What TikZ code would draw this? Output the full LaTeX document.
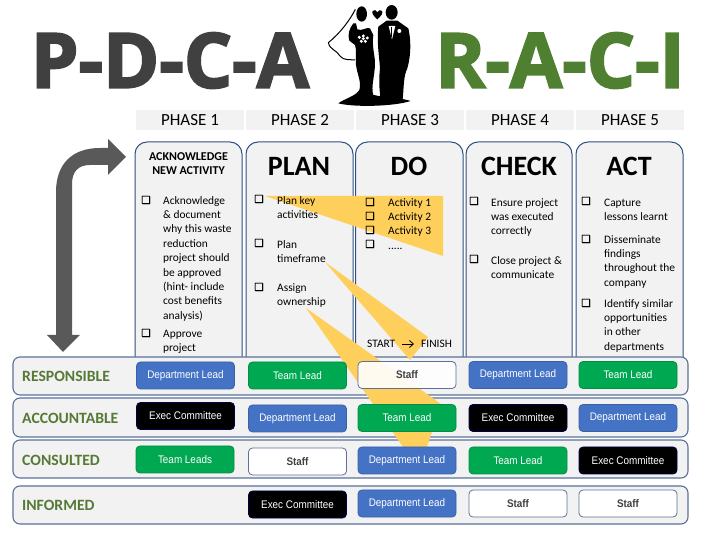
\documentclass[tikz,border=0pt]{standalone}
\usepackage{fontspec}
\usetikzlibrary{arrows.meta}
\setmainfont{Carlito}
\newfontfamily\btnfont[FakeStretch=.9]{Liberation Sans}
\newfontfamily\titlefont[BoldFeatures={FakeBold=2.6}]{Open Sans}
\newfontfamily\boxfont[FakeBold=1.6]{DejaVu Sans}
\definecolor{panelgray}{HTML}{F2F2F2}
\definecolor{panelline}{HTML}{2F5082}
\definecolor{rowline}{HTML}{5B7199}
\definecolor{darktitle}{HTML}{404040}
\definecolor{greentitle}{HTML}{4F7F30}
\definecolor{rowgreen}{HTML}{567A36}
\definecolor{arrowgray}{HTML}{595959}
\definecolor{wedge}{HTML}{FFCF5C}
\definecolor{btnblue}{HTML}{4472C4}
\definecolor{btngreen}{HTML}{00A851}
\tikzset{
  column/.style={draw=panelline,fill=panelgray,line width=1pt,rounded corners=12pt},
  rowband/.style={draw=rowline,fill=panelgray,line width=1.1pt,rounded corners=7pt},
  phasehead/.style={fill=panelgray,minimum width=108pt,minimum height=20pt,inner sep=0pt,font=\fontsize{17}{18}\selectfont},
  coltitle/.style={font=\bfseries\fontsize{28}{30}\selectfont,inner sep=0pt},
  bodytext/.style={anchor=west,align=left,inner sep=0pt,font=\fontsize{11.4}{14.4}\selectfont},
  tick/.style={inner sep=0pt,font=\boxfont\fontsize{10.5}{10.5}\selectfont},
  rowlabel/.style={anchor=west,inner sep=0pt,text=rowgreen,font=\bfseries\fontsize{15.7}{16}\selectfont},
  btn/.style={rounded corners=4pt,line width=.8pt,minimum width=98pt,minimum height=27pt,inner sep=0pt,font=\btnfont\fontsize{11}{12}\selectfont},
  bluebtn/.style={btn,fill=btnblue,draw=btnblue!85!black,text=white},
  greenbtn/.style={btn,fill=btngreen,draw=btngreen!85!black,text=white},
  blackbtn/.style={btn,fill=black,draw=black!70!blue,text=white},
  whitebtn/.style={btn,fill=white,draw=rowline,text=black!75,font=\btnfont\bfseries\fontsize{11}{12}\selectfont},
}
\begin{document}
\begin{tikzpicture}[x=1pt,y=-1pt]
\useasboundingbox (0,0) rectangle (716,540);
% title
\node[inner sep=0pt,text=darktitle,font=\titlefont\bfseries\fontsize{76}{80}\selectfont] (pdca) at (170,60.5) {P-D-C-A};
\node[inner sep=0pt,text=greentitle,font=\titlefont\bfseries\fontsize{76}{80}\selectfont] (raci) at (560,60.5) {R-A-C-I};
% couple
\begin{scope}[shift={(320,0)},x=.3333pt,y=-.3333pt]
\fill (125,42) ellipse (16 and 23);
\fill (215,37) ellipse (18 and 22);
\fill (172,58) .. controls (160,48) and (154,38) .. (158,33) .. controls (162,28) and (170,30) .. (172,37) .. controls (175,30) and (183,28) .. (186,33) .. controls (190,38) and (184,48) .. (172,58) -- cycle;
\draw[line width=1pt] (106,28) .. controls (90,60) and (60,100) .. (25,128) .. controls (30,150) and (50,150) .. (60,168) .. controls (70,182) and (90,178) .. (105,180);
\fill (100,70) .. controls (88,85) and (82,105) .. (88,122) -- (105,135) .. controls (112,155) and (105,170) .. (108,195) .. controls (112,225) and (125,245) .. (118,270) .. controls (105,290) and (75,295) .. (55,310) .. controls (100,322) and (220,320) .. (272,303) .. controls (250,295) and (190,290) .. (160,285) .. controls (152,260) and (165,225) .. (165,190) .. controls (165,165) and (155,140) .. (160,105) -- (150,85) .. controls (140,80) and (125,95) .. (112,88) -- (108,70) -- cycle;
\fill (200,62) -- (175,80) .. controls (170,130) and (178,170) .. (180,205) .. controls (176,240) and (178,270) .. (182,298) -- (248,298) .. controls (252,260) and (250,230) .. (262,205) .. controls (275,160) and (272,115) .. (265,85) -- (232,62) -- cycle;
\fill[white] (166,205) .. controls (172,235) and (175,265) .. (178,288) -- (166,284) .. controls (160,262) and (166,230) .. (166,205) -- cycle;
\fill[white] (206,78) -- (226,78) -- (216,118) -- cycle;
\fill (216,82) -- (216,112) -- (214,112) -- (214,82) -- cycle;
\fill (203,68) -- (216,73) -- (229,68) -- (229,78) -- (216,74) -- (203,78) -- cycle;
\fill[white] (238,93) circle (6);
\foreach \fx/\fy in {118/112,130/108,142/114,124/124,136/124,130/116}
  \fill[white] (\fx,\fy) circle (5);
\end{scope}
% phase heads
\node[phasehead] (ph1) at (190,120.5) {PHASE 1};
\node[phasehead] (ph2) at (300,120.5) {PHASE 2};
\node[phasehead] (ph3) at (410,120.5) {PHASE 3};
\node[phasehead] (ph4) at (520,120.5) {PHASE 4};
\node[phasehead] (ph5) at (630,120.5) {PHASE 5};
% loop arrow
\fill[arrowgray] (126,157) -- (108,139) -- (108,148) -- (100,148) .. controls (72,148) and (56,164) .. (56,192) -- (56,335) -- (47,335) -- (63,352) -- (80,335) -- (72,335) -- (72,184) .. controls (72,172) and (78,165) .. (90,165) -- (108,165) -- (108,175) -- cycle;
% columns
\path[column] (135,380) -- (135,142) -- (242,142) -- (242,380);
\path[column] (246,380) -- (246,142) -- (353,142) -- (353,380);
\path[column] (355.5,380) -- (355.5,142) -- (463,142) -- (463,380);
\path[column] (466,380) -- (466,142) -- (572,142) -- (572,380);
\path[column] (576,380) -- (576,142) -- (683,142) -- (683,380);
% rows
\path[rowband] (13,357) rectangle (688,395);
\path[rowband] (13,398) rectangle (688,437);
\path[rowband] (13,440) rectangle (688,478);
\path[rowband] (13,486) rectangle (688,524);
% wedges
\fill[wedge] (265,196) -- (443,196) -- (443,256) -- cycle;
\fill[wedge] (325,262) -- (428,337) -- (410,360) -- cycle;
\fill[wedge] (306,308) -- (441,404) -- (427,447) -- (403,447) -- cycle;
% column titles
\node[font=\bfseries\fontsize{12}{14}\selectfont,align=center,inner sep=0pt] (t1) at (188.5,164) {ACKNOWLEDGE\\NEW ACTIVITY};
\node[coltitle] (t2) at (299,166) {PLAN};
\node[coltitle] (t3) at (409,166) {DO};
\node[coltitle] (t4) at (519,166) {CHECK};
\node[coltitle] (t5) at (629,166) {ACT};
% column 1
\node[tick] (c11) at (146,200) {❑};
\node[bodytext,anchor=north west] (b11) at (163,196) {Acknowledge\\\& document\\why this waste\\reduction\\project should\\be approved\\(hint- include\\cost benefits\\analysis)};
\node[tick] (c12) at (146,333) {❑};
\node[bodytext,anchor=north west] (b12) at (163,330) {Approve\\project};
% column 2
\node[tick] (c21) at (259,199) {❑};
\node[bodytext,anchor=north west] (b21) at (277,196) {Plan key\\activities};
\node[tick] (c22) at (259,243) {❑};
\node[bodytext,anchor=north west] (b22) at (277,240) {Plan\\timeframe};
\node[tick] (c23) at (259,287) {❑};
\node[bodytext,anchor=north west] (b23) at (277,283) {Assign\\ownership};
% column 3
\node[tick] (c31) at (370,202) {❑};
\node[tick] (c32) at (370,216) {❑};
\node[tick] (c33) at (370,230) {❑};
\node[tick] (c34) at (370,244) {❑};
\node[bodytext,anchor=north west] (b31) at (388,198) {Activity 1\\Activity 2\\Activity 3\\.....};
\node[bodytext] (start) at (367,344) {START};
\node[bodytext] (finish) at (421,344) {FINISH};
\draw[-{Straight Barb[length=4pt,width=7pt]},line width=.8pt] ([xshift=7pt]start.east) -- ([xshift=-7pt]finish.west);
% column 4
\node[tick] (c41) at (474,201) {❑};
\node[bodytext,anchor=north west] (b41) at (491,198) {Ensure project\\was executed\\correctly};
\node[tick] (c42) at (474,259) {❑};
\node[bodytext,anchor=north west] (b42) at (491,256) {Close project \&\\communicate};
% column 5
\node[tick] (c51) at (586,201) {❑};
\node[bodytext,anchor=north west] (b51) at (604,199) {Capture\\lessons learnt};
\node[tick] (c52) at (586,239) {❑};
\node[bodytext,anchor=north west] (b52) at (604,235) {Disseminate\\findings\\throughout the\\company};
\node[tick] (c53) at (586,303) {❑};
\node[bodytext,anchor=north west] (b53) at (604,299) {Identify similar\\opportunities\\in other\\departments};
% row labels
\node[rowlabel] (responsible) at (22,376.5) {RESPONSIBLE};
\node[rowlabel] (accountable) at (22,418.5) {ACCOUNTABLE};
\node[rowlabel] (consulted) at (22,460.5) {CONSULTED};
\node[rowlabel] (informed) at (22,505.5) {INFORMED};
% buttons
\node[bluebtn] (r1) at (185.5,375.5) {Department Lead};
\node[greenbtn] (r2) at (297.5,375.5) {Team Lead};
\node[whitebtn,fill opacity=.9,text opacity=1] (r3) at (407,375) {Staff};
\node[bluebtn] (r4) at (518,375) {Department Lead};
\node[greenbtn] (r5) at (628,375) {Team Lead};
\node[blackbtn] (a1) at (185.5,416) {Exec Committee};
\node[bluebtn] (a2) at (297.5,418.5) {Department Lead};
\node[greenbtn] (a3) at (407,418) {Team Lead};
\node[blackbtn] (a4) at (518,418) {Exec Committee};
\node[bluebtn] (a5) at (628,418) {Department Lead};
\node[greenbtn] (c1) at (185,459.5) {Team Leads};
\node[whitebtn] (c2) at (297.5,461.5) {Staff};
\node[bluebtn] (c3) at (407,460.5) {Department Lead};
\node[greenbtn] (c4) at (518,460.5) {Team Lead};
\node[blackbtn] (c5) at (628,460.5) {Exec Committee};
\node[blackbtn] (i2) at (297.5,504.5) {Exec Committee};
\node[bluebtn] (i3) at (407,503.5) {Department Lead};
\node[whitebtn] (i4) at (518,503.5) {Staff};
\node[whitebtn] (i5) at (628,503.5) {Staff};
\end{tikzpicture}
\end{document}
